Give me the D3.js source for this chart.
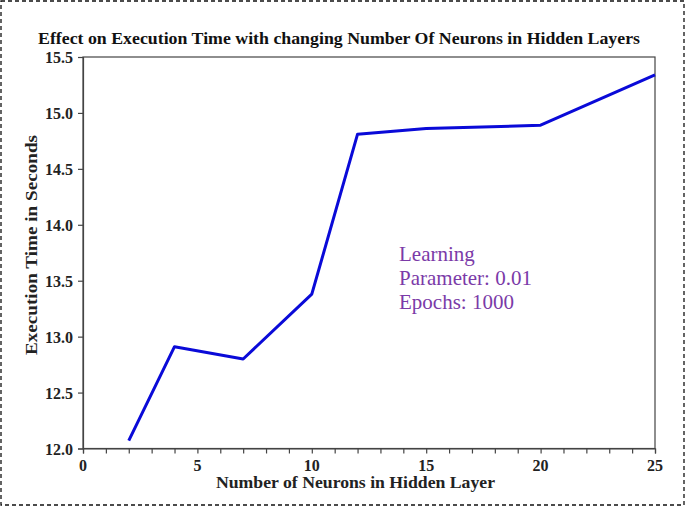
<!DOCTYPE html>
<html>
<head>
<meta charset="utf-8">
<script src="https://d3js.org/d3.v7.min.js"></script>
<style>
	html, body { margin:0; padding:0; background:#fff; }
	svg { display:block; }
</style>
</head>
<body>
<script>
// values
const neurons  = [2, 4, 7, 10, 12, 15, 20, 25]
const execTime = [12.07, 12.91, 12.80, 13.38, 14.81, 14.86, 14.89, 15.34]
const xTicks   = [0, 5, 10, 15, 20, 25]
const yTicks   = [12.0, 12.5, 13.0, 13.5, 14.0, 14.5, 15.0, 15.5]
const noteLines = ["Learning", "Parameter: 0.01", "Epochs: 1000"]

const width = 685, height = 506
const margin = {left:83, right:30, top:57, bottom:58}
const serif = "'Liberation Serif', 'DejaVu Serif', serif"

const svg = d3.select("body").append("svg")
	.attr("width", width)
	.attr("height", height)

// dashed frame round the whole picture
svg.append("rect")
	.attr("x", 1).attr("y", 1)
	.attr("width", width-2).attr("height", height-2)
	.attr("fill", "none")
	.attr("stroke", "#111")
	.attr("stroke-width", 1.3)
	.attr("stroke-dasharray", "4,3")

const xScale = d3.scaleLinear().domain([0,25]).range([margin.left, width-margin.right])
const yScale = d3.scaleLinear().domain([12,15.5]).range([height-margin.bottom+0.5, margin.top])

// plot box
svg.append("rect")
	.attr("x", xScale(0)).attr("y", yScale(15.5))
	.attr("width", xScale(25)-xScale(0))
	.attr("height", yScale(12)-yScale(15.5))
	.attr("fill", "none")
	.attr("stroke", "#444")
	.attr("stroke-width", 1.2)

// x axis, minor ticks every unit
let xAxisGroup = svg.append("g")
	.attr("transform", "translate(0," + yScale(12) + ")")
	.call(d3.axisBottom(xScale).tickValues(d3.range(0,26)).tickSize(5).tickFormat(""))
xAxisGroup.select(".domain").attr("stroke", "#444").attr("stroke-width", 1.2)
xAxisGroup.selectAll("line").attr("stroke", "#444").attr("stroke-width", 1.2)

svg.append("g").selectAll("text")
	.data(xTicks)
	.join("text")
	.attr("x", d => xScale(d))
	.attr("y", yScale(12) + 22)
	.attr("text-anchor", "middle")
	.style("font-family", serif)
	.style("font-weight", "bold")
	.style("font-size", "16px")
	.style("fill", "#222")
	.text(d => d)

// y axis
let yAxisGroup = svg.append("g")
	.attr("transform", "translate(" + xScale(0) + ",0)")
	.call(d3.axisLeft(yScale).tickValues(yTicks).tickSize(5).tickFormat(d3.format(".1f")))
yAxisGroup.select(".domain").attr("stroke", "#444").attr("stroke-width", 1.2)
yAxisGroup.selectAll("line").attr("stroke", "#444").attr("stroke-width", 1.2)
yAxisGroup.selectAll("text")
	.attr("x", -10)
	.attr("dy", "0.36em")
	.style("font-family", serif)
	.style("font-weight", "bold")
	.style("font-size", "16px")
	.style("fill", "#222")

// title and axis labels
svg.append("text")
	.attr("x", 38).attr("y", 44)
	.attr("textLength", 602)
	.attr("lengthAdjust", "spacingAndGlyphs")
	.style("font-family", serif)
	.style("font-weight", "bold")
	.style("font-size", "17.5px")
	.style("fill", "#111")
	.text("Effect on Execution Time with changing Number Of Neurons in Hidden Layers")

svg.append("text")
	.attr("x", 216).attr("y", 488)
	.attr("textLength", 279)
	.attr("lengthAdjust", "spacingAndGlyphs")
	.style("font-family", serif)
	.style("font-weight", "bold")
	.style("font-size", "17.5px")
	.style("fill", "#222")
	.text("Number of Neurons in Hidden Layer")

svg.append("text")
	.attr("transform", "translate(37," + 245 + ") rotate(-90)")
	.attr("x", -110)
	.attr("textLength", 220)
	.attr("lengthAdjust", "spacingAndGlyphs")
	.style("font-family", serif)
	.style("font-weight", "bold")
	.style("font-size", "17px")
	.style("fill", "#222")
	.text("Execution Time in Seconds")

// the series
const line = d3.line()
	.x((d,i) => xScale(neurons[i]))
	.y(d => yScale(d))

svg.append("path")
	.datum(execTime)
	.attr("d", line)
	.attr("fill", "none")
	.attr("stroke", "#0a0ad8")
	.attr("stroke-width", 3)
	.attr("stroke-linejoin", "round")

// note inside the plot
svg.append("g").selectAll("text")
	.data(noteLines)
	.join("text")
	.attr("x", 399)
	.attr("y", (d,i) => 261 + i*24)
	.style("font-family", serif)
	.style("font-size", "21px")
	.style("fill", "#7b3aa8")
	.text(d => d)
</script>
</body>
</html>
